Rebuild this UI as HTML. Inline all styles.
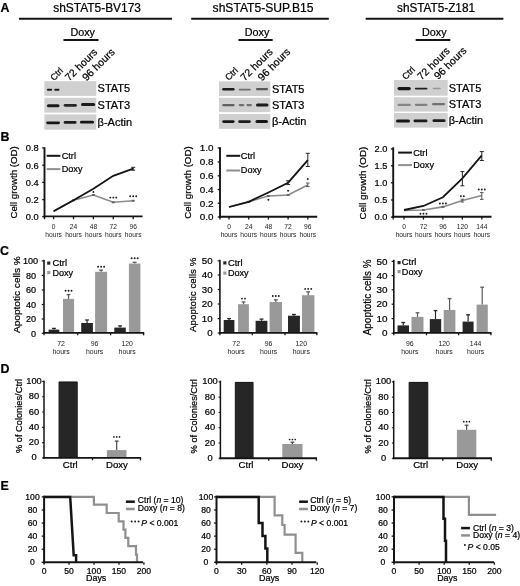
<!DOCTYPE html>
<html><head><meta charset="utf-8"><title>Figure</title>
<style>
html,body{margin:0;padding:0;background:#fff;}
svg{display:block;}
text{font-family:'Liberation Sans', Arial, Helvetica, sans-serif;stroke:#000;stroke-width:0.22px;}
text.ns{stroke:none;}
</style></head><body>
<svg width="520" height="586" viewBox="0 0 520 586">
<rect x="0" y="0" width="520" height="586" fill="#fff"/>
<text x="0.60" y="12.00" font-size="12.4" font-weight="bold">A</text>
<text x="0.60" y="141.00" font-size="12.4" font-weight="bold">B</text>
<text x="0.00" y="255.20" font-size="12.4" font-weight="bold">C</text>
<text x="0.60" y="373.40" font-size="12.4" font-weight="bold">D</text>
<text x="0.60" y="489.80" font-size="12.4" font-weight="bold">E</text>
<defs><filter id="bl" x="-20%" y="-100%" width="140%" height="300%"><feGaussianBlur stdDeviation="0.55"/></filter><filter id="bl2" x="-5%" y="-5%" width="110%" height="110%"><feGaussianBlur stdDeviation="0.35"/></filter></defs>
<text x="53.20" y="12.20" font-size="11.9" textLength="87.80" lengthAdjust="spacingAndGlyphs">shSTAT5-BV173</text>
<line x1="19.00" y1="18.75" x2="172.00" y2="18.75" stroke="#141414" stroke-width="1.9"/>
<text x="70.40" y="35.50" font-size="10.3" textLength="24.60" lengthAdjust="spacingAndGlyphs">Doxy</text>
<line x1="63.50" y1="40.00" x2="98.50" y2="40.00" stroke="#141414" stroke-width="1.8"/>
<text x="53.90" y="81.20" font-size="9.0" transform="rotate(-45 53.90 81.20)">Ctrl</text>
<text x="69.20" y="81.60" font-size="10.5" transform="rotate(-45 69.20 81.60)">72 hours</text>
<text x="86.50" y="81.60" font-size="10.5" transform="rotate(-45 86.50 81.60)">96 hours</text>
<rect x="44.40" y="81.20" width="51.90" height="14.70" fill="#d0d0d0"/>
<rect x="46.90" y="88.85" width="5.30" height="1.90" rx="0.95" fill="rgb(28,28,28)" filter="url(#bl)"/>
<rect x="54.20" y="88.85" width="5.30" height="1.90" rx="0.95" fill="rgb(28,28,28)" filter="url(#bl)"/>
<text x="97.60" y="92.35" font-size="11.0">STAT5</text>
<rect x="44.40" y="97.80" width="51.90" height="14.80" fill="#d0d0d0"/>
<rect x="46.90" y="104.20" width="12.60" height="3.00" rx="1.50" fill="rgb(28,28,28)" filter="url(#bl)"/>
<rect x="63.70" y="103.90" width="13.20" height="2.80" rx="1.40" fill="rgb(37,37,37)" filter="url(#bl)"/>
<rect x="81.00" y="102.90" width="14.20" height="3.00" rx="1.50" fill="rgb(28,28,28)" filter="url(#bl)"/>
<text x="97.60" y="109.00" font-size="11.0">STAT3</text>
<rect x="44.40" y="114.40" width="51.90" height="15.30" fill="#d0d0d0"/>
<rect x="46.20" y="121.40" width="13.80" height="2.80" rx="1.40" fill="rgb(25,25,25)" filter="url(#bl)"/>
<rect x="63.70" y="121.10" width="12.80" height="2.60" rx="1.30" fill="rgb(28,28,28)" filter="url(#bl)"/>
<rect x="80.00" y="120.80" width="14.00" height="2.80" rx="1.40" fill="rgb(25,25,25)" filter="url(#bl)"/>
<text x="97.60" y="125.85" font-size="11.0">&#946;-Actin</text>
<text x="212.60" y="12.20" font-size="11.9" textLength="100.90" lengthAdjust="spacingAndGlyphs">shSTAT5-SUP.B15</text>
<line x1="191.20" y1="18.75" x2="328.80" y2="18.75" stroke="#141414" stroke-width="1.9"/>
<text x="244.70" y="35.50" font-size="10.3" textLength="24.60" lengthAdjust="spacingAndGlyphs">Doxy</text>
<line x1="238.50" y1="40.00" x2="272.70" y2="40.00" stroke="#141414" stroke-width="1.8"/>
<text x="228.70" y="81.00" font-size="9.0" transform="rotate(-45 228.70 81.00)">Ctrl</text>
<text x="244.70" y="81.40" font-size="10.5" transform="rotate(-45 244.70 81.40)">72 hours</text>
<text x="262.10" y="81.40" font-size="10.5" transform="rotate(-45 262.10 81.40)">96 hours</text>
<rect x="219.00" y="81.40" width="51.30" height="14.60" fill="#d0d0d0"/>
<rect x="222.20" y="88.10" width="12.40" height="2.40" rx="1.20" fill="rgb(28,28,28)" filter="url(#bl)"/>
<rect x="238.70" y="88.70" width="12.10" height="1.80" rx="0.90" fill="rgb(113,113,113)" filter="url(#bl)"/>
<rect x="256.00" y="88.10" width="12.00" height="2.20" rx="1.10" fill="rgb(88,88,88)" filter="url(#bl)"/>
<text x="271.90" y="92.50" font-size="11.0">STAT5</text>
<rect x="219.00" y="97.80" width="51.30" height="14.30" fill="#d0d0d0"/>
<rect x="222.20" y="103.90" width="12.40" height="2.40" rx="1.20" fill="rgb(96,96,96)" filter="url(#bl)"/>
<rect x="238.70" y="104.00" width="5.65" height="2.20" rx="1.10" fill="rgb(113,113,113)" filter="url(#bl)"/>
<rect x="246.35" y="104.00" width="5.65" height="2.20" rx="1.10" fill="rgb(113,113,113)" filter="url(#bl)"/>
<rect x="256.00" y="103.40" width="12.50" height="3.00" rx="1.50" fill="rgb(28,28,28)" filter="url(#bl)"/>
<text x="271.90" y="108.75" font-size="11.0">STAT3</text>
<rect x="219.00" y="114.00" width="51.30" height="14.80" fill="#d0d0d0"/>
<rect x="222.20" y="120.20" width="12.40" height="2.80" rx="1.40" fill="rgb(25,25,25)" filter="url(#bl)"/>
<rect x="238.20" y="120.30" width="12.60" height="2.60" rx="1.30" fill="rgb(28,28,28)" filter="url(#bl)"/>
<rect x="255.50" y="119.90" width="12.50" height="3.00" rx="1.50" fill="rgb(25,25,25)" filter="url(#bl)"/>
<text x="271.90" y="125.20" font-size="11.0">&#946;-Actin</text>
<text x="397.00" y="12.20" font-size="11.9" textLength="78.00" lengthAdjust="spacingAndGlyphs">shSTAT5-Z181</text>
<line x1="365.70" y1="18.75" x2="503.40" y2="18.75" stroke="#141414" stroke-width="1.9"/>
<text x="422.00" y="35.50" font-size="10.3" textLength="24.60" lengthAdjust="spacingAndGlyphs">Doxy</text>
<line x1="415.70" y1="40.00" x2="450.30" y2="40.00" stroke="#141414" stroke-width="1.8"/>
<text x="405.70" y="80.20" font-size="9.0" transform="rotate(-45 405.70 80.20)">Ctrl</text>
<text x="421.60" y="80.50" font-size="10.5" transform="rotate(-45 421.60 80.50)">72 hours</text>
<text x="438.30" y="80.10" font-size="10.5" transform="rotate(-45 438.30 80.10)">96 hours</text>
<rect x="394.00" y="80.00" width="53.70" height="15.70" fill="#d0d0d0"/>
<rect x="397.50" y="86.90" width="13.30" height="3.40" rx="1.70" fill="rgb(20,20,20)" filter="url(#bl)"/>
<rect x="414.80" y="87.65" width="12.70" height="1.90" rx="0.95" fill="rgb(33,33,33)" filter="url(#bl)"/>
<rect x="432.70" y="87.85" width="8.10" height="1.50" rx="0.75" fill="rgb(152,152,152)" filter="url(#bl)"/>
<text x="448.70" y="91.65" font-size="11.0">STAT5</text>
<rect x="394.00" y="97.30" width="53.70" height="14.30" fill="#d0d0d0"/>
<rect x="397.50" y="103.75" width="13.30" height="2.30" rx="1.15" fill="rgb(133,133,133)" filter="url(#bl)"/>
<rect x="414.80" y="103.65" width="12.70" height="2.30" rx="1.15" fill="rgb(128,128,128)" filter="url(#bl)"/>
<rect x="432.00" y="103.05" width="13.00" height="2.30" rx="1.15" fill="rgb(113,113,113)" filter="url(#bl)"/>
<text x="448.70" y="108.25" font-size="11.0">STAT3</text>
<rect x="394.00" y="113.00" width="53.70" height="14.60" fill="#d0d0d0"/>
<rect x="396.00" y="119.40" width="14.00" height="3.00" rx="1.50" fill="rgb(25,25,25)" filter="url(#bl)"/>
<rect x="413.50" y="119.50" width="14.00" height="2.80" rx="1.40" fill="rgb(28,28,28)" filter="url(#bl)"/>
<rect x="432.50" y="119.30" width="13.00" height="2.80" rx="1.40" fill="rgb(28,28,28)" filter="url(#bl)"/>
<text x="448.70" y="124.10" font-size="11.0">&#946;-Actin</text>
<line x1="44.50" y1="147.30" x2="44.50" y2="217.40" stroke="#141414" stroke-width="1.9"/>
<line x1="43.55" y1="216.40" x2="142.60" y2="216.40" stroke="#141414" stroke-width="1.9"/>
<line x1="42.20" y1="147.90" x2="44.50" y2="147.90" stroke="#141414" stroke-width="1.3"/>
<text x="38.80" y="151.20" font-size="9.3" text-anchor="end">0.8</text>
<line x1="42.20" y1="165.20" x2="44.50" y2="165.20" stroke="#141414" stroke-width="1.3"/>
<text x="38.80" y="168.50" font-size="9.3" text-anchor="end">0.6</text>
<line x1="42.20" y1="182.40" x2="44.50" y2="182.40" stroke="#141414" stroke-width="1.3"/>
<text x="38.80" y="185.70" font-size="9.3" text-anchor="end">0.4</text>
<line x1="42.20" y1="199.60" x2="44.50" y2="199.60" stroke="#141414" stroke-width="1.3"/>
<text x="38.80" y="202.90" font-size="9.3" text-anchor="end">0.2</text>
<line x1="42.20" y1="216.60" x2="44.50" y2="216.60" stroke="#141414" stroke-width="1.3"/>
<text x="38.80" y="219.90" font-size="9.3" text-anchor="end">0.0</text>
<line x1="53.60" y1="216.40" x2="53.60" y2="219.20" stroke="#141414" stroke-width="1.3"/>
<line x1="73.50" y1="216.40" x2="73.50" y2="219.20" stroke="#141414" stroke-width="1.3"/>
<line x1="93.40" y1="216.40" x2="93.40" y2="219.20" stroke="#141414" stroke-width="1.3"/>
<line x1="113.30" y1="216.40" x2="113.30" y2="219.20" stroke="#141414" stroke-width="1.3"/>
<line x1="133.20" y1="216.40" x2="133.20" y2="219.20" stroke="#141414" stroke-width="1.3"/>
<line x1="44.50" y1="216.40" x2="44.50" y2="219.20" stroke="#141414" stroke-width="1.3"/>
<text x="53.60" y="229.20" font-size="6.7" class="ns" text-anchor="middle" fill="#222">0</text>
<text x="53.60" y="236.70" font-size="6.7" class="ns" text-anchor="middle" fill="#222">hours</text>
<text x="73.50" y="229.20" font-size="6.7" class="ns" text-anchor="middle" fill="#222">24</text>
<text x="73.50" y="236.70" font-size="6.7" class="ns" text-anchor="middle" fill="#222">hours</text>
<text x="93.40" y="229.20" font-size="6.7" class="ns" text-anchor="middle" fill="#222">48</text>
<text x="93.40" y="236.70" font-size="6.7" class="ns" text-anchor="middle" fill="#222">hours</text>
<text x="113.30" y="229.20" font-size="6.7" class="ns" text-anchor="middle" fill="#222">72</text>
<text x="113.30" y="236.70" font-size="6.7" class="ns" text-anchor="middle" fill="#222">hours</text>
<text x="133.20" y="229.20" font-size="6.7" class="ns" text-anchor="middle" fill="#222">96</text>
<text x="133.20" y="236.70" font-size="6.7" class="ns" text-anchor="middle" fill="#222">hours</text>
<text x="17.40" y="182.40" font-size="9.7" text-anchor="middle" textLength="72.40" lengthAdjust="spacingAndGlyphs" transform="rotate(-90 17.40 182.40)">Cell growth (OD)</text>
<polyline points="53.60,211.20 73.50,200.30 93.40,195.00 113.30,202.30 133.20,200.80" fill="none" stroke="#8a8a8a" stroke-width="1.6" stroke-linejoin="miter"/>
<rect x="72.00" y="199.30" width="3.00" height="2.00" fill="#666"/>
<rect x="91.90" y="194.00" width="3.00" height="2.00" fill="#666"/>
<rect x="111.80" y="201.30" width="3.00" height="2.00" fill="#666"/>
<rect x="131.70" y="199.80" width="3.00" height="2.00" fill="#666"/>
<polyline points="53.60,211.20 73.50,200.30 93.40,188.80 113.30,175.80 133.20,168.60" fill="none" stroke="#141414" stroke-width="1.8" stroke-linejoin="miter"/>
<line x1="133.20" y1="167.30" x2="133.20" y2="170.20" stroke="#222" stroke-width="1.0"/>
<line x1="131.20" y1="167.30" x2="135.20" y2="167.30" stroke="#222" stroke-width="1.0"/>
<line x1="131.20" y1="170.20" x2="135.20" y2="170.20" stroke="#222" stroke-width="1.0"/>
<circle cx="93.40" cy="192.00" r="0.95" fill="#1a1a1a"/>
<circle cx="110.30" cy="197.60" r="0.95" fill="#1a1a1a"/>
<circle cx="113.30" cy="197.60" r="0.95" fill="#1a1a1a"/>
<circle cx="116.30" cy="197.60" r="0.95" fill="#1a1a1a"/>
<circle cx="130.20" cy="196.20" r="0.95" fill="#1a1a1a"/>
<circle cx="133.20" cy="196.20" r="0.95" fill="#1a1a1a"/>
<circle cx="136.20" cy="196.20" r="0.95" fill="#1a1a1a"/>
<line x1="46.70" y1="155.80" x2="60.40" y2="155.80" stroke="#141414" stroke-width="2.0"/>
<line x1="46.70" y1="169.10" x2="60.40" y2="169.10" stroke="#8f8f8f" stroke-width="2.0"/>
<text x="61.70" y="158.90" font-size="9.4" textLength="14.30" lengthAdjust="spacingAndGlyphs">Ctrl</text>
<text x="61.70" y="171.80" font-size="9.4" textLength="20.80" lengthAdjust="spacingAndGlyphs">Doxy</text>
<line x1="220.00" y1="147.30" x2="220.00" y2="217.80" stroke="#141414" stroke-width="1.9"/>
<line x1="219.05" y1="216.80" x2="317.20" y2="216.80" stroke="#141414" stroke-width="1.9"/>
<line x1="217.70" y1="148.00" x2="220.00" y2="148.00" stroke="#141414" stroke-width="1.3"/>
<text x="213.60" y="151.30" font-size="9.9" text-anchor="end">1.0</text>
<line x1="217.70" y1="162.00" x2="220.00" y2="162.00" stroke="#141414" stroke-width="1.3"/>
<text x="213.60" y="165.30" font-size="9.9" text-anchor="end">0.8</text>
<line x1="217.70" y1="175.80" x2="220.00" y2="175.80" stroke="#141414" stroke-width="1.3"/>
<text x="213.60" y="179.10" font-size="9.9" text-anchor="end">0.6</text>
<line x1="217.70" y1="189.50" x2="220.00" y2="189.50" stroke="#141414" stroke-width="1.3"/>
<text x="213.60" y="192.80" font-size="9.9" text-anchor="end">0.4</text>
<line x1="217.70" y1="203.20" x2="220.00" y2="203.20" stroke="#141414" stroke-width="1.3"/>
<text x="213.60" y="206.50" font-size="9.9" text-anchor="end">0.2</text>
<line x1="217.70" y1="217.00" x2="220.00" y2="217.00" stroke="#141414" stroke-width="1.3"/>
<text x="213.60" y="220.30" font-size="9.9" text-anchor="end">0.0</text>
<line x1="229.00" y1="216.80" x2="229.00" y2="219.60" stroke="#141414" stroke-width="1.3"/>
<line x1="248.70" y1="216.80" x2="248.70" y2="219.60" stroke="#141414" stroke-width="1.3"/>
<line x1="268.40" y1="216.80" x2="268.40" y2="219.60" stroke="#141414" stroke-width="1.3"/>
<line x1="288.10" y1="216.80" x2="288.10" y2="219.60" stroke="#141414" stroke-width="1.3"/>
<line x1="307.80" y1="216.80" x2="307.80" y2="219.60" stroke="#141414" stroke-width="1.3"/>
<line x1="220.00" y1="216.80" x2="220.00" y2="219.60" stroke="#141414" stroke-width="1.3"/>
<text x="229.00" y="229.20" font-size="6.7" class="ns" text-anchor="middle" fill="#222">0</text>
<text x="229.00" y="236.70" font-size="6.7" class="ns" text-anchor="middle" fill="#222">hours</text>
<text x="248.70" y="229.20" font-size="6.7" class="ns" text-anchor="middle" fill="#222">24</text>
<text x="248.70" y="236.70" font-size="6.7" class="ns" text-anchor="middle" fill="#222">hours</text>
<text x="268.40" y="229.20" font-size="6.7" class="ns" text-anchor="middle" fill="#222">48</text>
<text x="268.40" y="236.70" font-size="6.7" class="ns" text-anchor="middle" fill="#222">hours</text>
<text x="288.10" y="229.20" font-size="6.7" class="ns" text-anchor="middle" fill="#222">72</text>
<text x="288.10" y="236.70" font-size="6.7" class="ns" text-anchor="middle" fill="#222">hours</text>
<text x="307.80" y="229.20" font-size="6.7" class="ns" text-anchor="middle" fill="#222">96</text>
<text x="307.80" y="236.70" font-size="6.7" class="ns" text-anchor="middle" fill="#222">hours</text>
<text x="190.50" y="182.50" font-size="9.7" text-anchor="middle" textLength="72.40" lengthAdjust="spacingAndGlyphs" transform="rotate(-90 190.50 182.50)">Cell growth (OD)</text>
<polyline points="229.00,207.00 248.70,201.80 268.40,196.00 288.10,195.00 307.80,185.00" fill="none" stroke="#8a8a8a" stroke-width="1.6" stroke-linejoin="miter"/>
<rect x="247.20" y="200.80" width="3.00" height="2.00" fill="#666"/>
<rect x="266.90" y="195.00" width="3.00" height="2.00" fill="#666"/>
<rect x="286.60" y="194.00" width="3.00" height="2.00" fill="#666"/>
<polyline points="229.00,207.00 248.70,201.80 268.40,192.50 288.10,182.70 307.80,160.10" fill="none" stroke="#141414" stroke-width="1.8" stroke-linejoin="miter"/>
<line x1="288.10" y1="180.80" x2="288.10" y2="184.60" stroke="#222" stroke-width="1.0"/>
<line x1="286.10" y1="180.80" x2="290.10" y2="180.80" stroke="#222" stroke-width="1.0"/>
<line x1="286.10" y1="184.60" x2="290.10" y2="184.60" stroke="#222" stroke-width="1.0"/>
<line x1="307.80" y1="153.30" x2="307.80" y2="166.50" stroke="#222" stroke-width="1.0"/>
<line x1="305.80" y1="153.30" x2="309.80" y2="153.30" stroke="#222" stroke-width="1.0"/>
<line x1="305.80" y1="166.50" x2="309.80" y2="166.50" stroke="#222" stroke-width="1.0"/>
<line x1="307.80" y1="183.00" x2="307.80" y2="186.60" stroke="#5a5a5a" stroke-width="1.0"/>
<line x1="306.00" y1="183.00" x2="309.60" y2="183.00" stroke="#5a5a5a" stroke-width="1.0"/>
<line x1="306.00" y1="186.60" x2="309.60" y2="186.60" stroke="#5a5a5a" stroke-width="1.0"/>
<circle cx="268.40" cy="199.80" r="0.95" fill="#1a1a1a"/>
<circle cx="288.10" cy="190.70" r="0.95" fill="#1a1a1a"/>
<circle cx="307.80" cy="179.00" r="0.95" fill="#1a1a1a"/>
<line x1="226.30" y1="155.80" x2="240.20" y2="155.80" stroke="#141414" stroke-width="2.0"/>
<line x1="226.30" y1="170.50" x2="240.20" y2="170.50" stroke="#8f8f8f" stroke-width="2.0"/>
<text x="240.80" y="158.90" font-size="9.4" textLength="14.30" lengthAdjust="spacingAndGlyphs">Ctrl</text>
<text x="240.80" y="173.20" font-size="9.4" textLength="20.80" lengthAdjust="spacingAndGlyphs">Doxy</text>
<line x1="393.20" y1="147.30" x2="393.20" y2="217.80" stroke="#141414" stroke-width="1.9"/>
<line x1="392.25" y1="216.80" x2="491.50" y2="216.80" stroke="#141414" stroke-width="1.9"/>
<line x1="390.90" y1="148.90" x2="393.20" y2="148.90" stroke="#141414" stroke-width="1.3"/>
<text x="387.30" y="152.20" font-size="9.2" text-anchor="end">2.0</text>
<line x1="390.90" y1="165.80" x2="393.20" y2="165.80" stroke="#141414" stroke-width="1.3"/>
<text x="387.30" y="169.10" font-size="9.2" text-anchor="end">1.5</text>
<line x1="390.90" y1="182.80" x2="393.20" y2="182.80" stroke="#141414" stroke-width="1.3"/>
<text x="387.30" y="186.10" font-size="9.2" text-anchor="end">1.0</text>
<line x1="390.90" y1="200.00" x2="393.20" y2="200.00" stroke="#141414" stroke-width="1.3"/>
<text x="387.30" y="203.30" font-size="9.2" text-anchor="end">0.5</text>
<line x1="390.90" y1="217.10" x2="393.20" y2="217.10" stroke="#141414" stroke-width="1.3"/>
<text x="387.30" y="220.40" font-size="9.2" text-anchor="end">0.0</text>
<line x1="404.00" y1="216.80" x2="404.00" y2="219.60" stroke="#141414" stroke-width="1.3"/>
<line x1="423.45" y1="216.80" x2="423.45" y2="219.60" stroke="#141414" stroke-width="1.3"/>
<line x1="442.90" y1="216.80" x2="442.90" y2="219.60" stroke="#141414" stroke-width="1.3"/>
<line x1="462.35" y1="216.80" x2="462.35" y2="219.60" stroke="#141414" stroke-width="1.3"/>
<line x1="481.80" y1="216.80" x2="481.80" y2="219.60" stroke="#141414" stroke-width="1.3"/>
<line x1="393.20" y1="216.80" x2="393.20" y2="219.60" stroke="#141414" stroke-width="1.3"/>
<text x="404.00" y="229.20" font-size="6.7" class="ns" text-anchor="middle" fill="#222">0</text>
<text x="404.00" y="236.70" font-size="6.7" class="ns" text-anchor="middle" fill="#222">hours</text>
<text x="423.45" y="229.20" font-size="6.7" class="ns" text-anchor="middle" fill="#222">72</text>
<text x="423.45" y="236.70" font-size="6.7" class="ns" text-anchor="middle" fill="#222">hours</text>
<text x="442.90" y="229.20" font-size="6.7" class="ns" text-anchor="middle" fill="#222">96</text>
<text x="442.90" y="236.70" font-size="6.7" class="ns" text-anchor="middle" fill="#222">hours</text>
<text x="462.35" y="229.20" font-size="6.7" class="ns" text-anchor="middle" fill="#222">120</text>
<text x="462.35" y="236.70" font-size="6.7" class="ns" text-anchor="middle" fill="#222">hours</text>
<text x="481.80" y="229.20" font-size="6.7" class="ns" text-anchor="middle" fill="#222">144</text>
<text x="481.80" y="236.70" font-size="6.7" class="ns" text-anchor="middle" fill="#222">hours</text>
<text x="365.70" y="183.10" font-size="9.7" text-anchor="middle" textLength="72.60" lengthAdjust="spacingAndGlyphs" transform="rotate(-90 365.70 183.10)">Cell growth (OD)</text>
<polyline points="404.00,210.50 423.45,210.00 442.90,206.90 462.35,200.60 481.80,195.50" fill="none" stroke="#8a8a8a" stroke-width="1.6" stroke-linejoin="miter"/>
<rect x="421.95" y="209.00" width="3.00" height="2.00" fill="#666"/>
<rect x="441.40" y="205.90" width="3.00" height="2.00" fill="#666"/>
<polyline points="404.00,210.00 423.45,206.00 442.90,197.20 462.35,178.40 481.80,155.40" fill="none" stroke="#141414" stroke-width="1.8" stroke-linejoin="miter"/>
<line x1="462.35" y1="171.60" x2="462.35" y2="185.80" stroke="#222" stroke-width="1.0"/>
<line x1="460.35" y1="171.60" x2="464.35" y2="171.60" stroke="#222" stroke-width="1.0"/>
<line x1="460.35" y1="185.80" x2="464.35" y2="185.80" stroke="#222" stroke-width="1.0"/>
<line x1="481.80" y1="151.60" x2="481.80" y2="160.50" stroke="#222" stroke-width="1.0"/>
<line x1="479.80" y1="151.60" x2="483.80" y2="151.60" stroke="#222" stroke-width="1.0"/>
<line x1="479.80" y1="160.50" x2="483.80" y2="160.50" stroke="#222" stroke-width="1.0"/>
<line x1="462.35" y1="199.20" x2="462.35" y2="202.00" stroke="#5a5a5a" stroke-width="1.0"/>
<line x1="460.55" y1="199.20" x2="464.15" y2="199.20" stroke="#5a5a5a" stroke-width="1.0"/>
<line x1="460.55" y1="202.00" x2="464.15" y2="202.00" stroke="#5a5a5a" stroke-width="1.0"/>
<line x1="481.80" y1="192.60" x2="481.80" y2="199.40" stroke="#5a5a5a" stroke-width="1.0"/>
<line x1="480.00" y1="192.60" x2="483.60" y2="192.60" stroke="#5a5a5a" stroke-width="1.0"/>
<line x1="480.00" y1="199.40" x2="483.60" y2="199.40" stroke="#5a5a5a" stroke-width="1.0"/>
<circle cx="420.45" cy="213.80" r="0.95" fill="#1a1a1a"/>
<circle cx="423.45" cy="213.80" r="0.95" fill="#1a1a1a"/>
<circle cx="426.45" cy="213.80" r="0.95" fill="#1a1a1a"/>
<circle cx="439.90" cy="203.50" r="0.95" fill="#1a1a1a"/>
<circle cx="442.90" cy="203.50" r="0.95" fill="#1a1a1a"/>
<circle cx="445.90" cy="203.50" r="0.95" fill="#1a1a1a"/>
<circle cx="460.85" cy="196.30" r="0.95" fill="#1a1a1a"/>
<circle cx="463.85" cy="196.30" r="0.95" fill="#1a1a1a"/>
<circle cx="478.80" cy="189.50" r="0.95" fill="#1a1a1a"/>
<circle cx="481.80" cy="189.50" r="0.95" fill="#1a1a1a"/>
<circle cx="484.80" cy="189.50" r="0.95" fill="#1a1a1a"/>
<line x1="398.10" y1="152.60" x2="412.00" y2="152.60" stroke="#141414" stroke-width="2.0"/>
<line x1="398.10" y1="165.10" x2="412.00" y2="165.10" stroke="#8f8f8f" stroke-width="2.0"/>
<text x="413.20" y="155.70" font-size="9.4" textLength="14.30" lengthAdjust="spacingAndGlyphs">Ctrl</text>
<text x="413.20" y="167.80" font-size="9.4" textLength="20.80" lengthAdjust="spacingAndGlyphs">Doxy</text>
<rect x="48.60" y="329.60" width="10.70" height="3.30" fill="#262626"/>
<rect x="63.00" y="298.90" width="11.10" height="34.00" fill="#999999"/>
<line x1="53.95" y1="328.40" x2="53.95" y2="329.60" stroke="#262626" stroke-width="1.2"/>
<line x1="52.05" y1="328.40" x2="55.85" y2="328.40" stroke="#262626" stroke-width="1.3"/>
<line x1="68.55" y1="294.60" x2="68.55" y2="298.90" stroke="#5a5a5a" stroke-width="1.2"/>
<line x1="66.65" y1="294.60" x2="70.45" y2="294.60" stroke="#5a5a5a" stroke-width="1.3"/>
<circle cx="65.55" cy="290.80" r="0.95" fill="#1a1a1a"/>
<circle cx="68.55" cy="290.80" r="0.95" fill="#1a1a1a"/>
<circle cx="71.55" cy="290.80" r="0.95" fill="#1a1a1a"/>
<rect x="81.20" y="323.00" width="11.70" height="9.90" fill="#262626"/>
<rect x="95.10" y="271.80" width="12.00" height="61.10" fill="#999999"/>
<line x1="87.05" y1="320.00" x2="87.05" y2="323.00" stroke="#262626" stroke-width="1.2"/>
<line x1="85.15" y1="320.00" x2="88.95" y2="320.00" stroke="#262626" stroke-width="1.3"/>
<line x1="101.10" y1="270.10" x2="101.10" y2="271.80" stroke="#5a5a5a" stroke-width="1.2"/>
<line x1="99.20" y1="270.10" x2="103.00" y2="270.10" stroke="#5a5a5a" stroke-width="1.3"/>
<circle cx="98.10" cy="266.70" r="0.95" fill="#1a1a1a"/>
<circle cx="101.10" cy="266.70" r="0.95" fill="#1a1a1a"/>
<circle cx="104.10" cy="266.70" r="0.95" fill="#1a1a1a"/>
<rect x="114.30" y="327.60" width="11.50" height="5.30" fill="#262626"/>
<rect x="128.90" y="263.60" width="11.50" height="69.30" fill="#999999"/>
<line x1="120.05" y1="325.90" x2="120.05" y2="327.60" stroke="#262626" stroke-width="1.2"/>
<line x1="118.15" y1="325.90" x2="121.95" y2="325.90" stroke="#262626" stroke-width="1.3"/>
<line x1="134.65" y1="262.30" x2="134.65" y2="263.60" stroke="#5a5a5a" stroke-width="1.2"/>
<line x1="132.75" y1="262.30" x2="136.55" y2="262.30" stroke="#5a5a5a" stroke-width="1.3"/>
<circle cx="131.65" cy="258.20" r="0.95" fill="#1a1a1a"/>
<circle cx="134.65" cy="258.20" r="0.95" fill="#1a1a1a"/>
<circle cx="137.65" cy="258.20" r="0.95" fill="#1a1a1a"/>
<line x1="44.00" y1="259.80" x2="44.00" y2="333.80" stroke="#141414" stroke-width="1.6"/>
<line x1="43.20" y1="332.90" x2="144.20" y2="332.90" stroke="#141414" stroke-width="1.9"/>
<line x1="41.80" y1="261.00" x2="44.00" y2="261.00" stroke="#141414" stroke-width="1.2"/>
<text x="38.20" y="264.20" font-size="9.1" text-anchor="end">100</text>
<line x1="41.80" y1="275.40" x2="44.00" y2="275.40" stroke="#141414" stroke-width="1.2"/>
<text x="36.00" y="278.60" font-size="9.1" text-anchor="end">80</text>
<line x1="41.80" y1="290.00" x2="44.00" y2="290.00" stroke="#141414" stroke-width="1.2"/>
<text x="36.00" y="293.20" font-size="9.1" text-anchor="end">60</text>
<line x1="41.80" y1="304.50" x2="44.00" y2="304.50" stroke="#141414" stroke-width="1.2"/>
<text x="36.00" y="307.70" font-size="9.1" text-anchor="end">40</text>
<line x1="41.80" y1="319.00" x2="44.00" y2="319.00" stroke="#141414" stroke-width="1.2"/>
<text x="36.00" y="322.20" font-size="9.1" text-anchor="end">20</text>
<line x1="41.80" y1="333.30" x2="44.00" y2="333.30" stroke="#141414" stroke-width="1.2"/>
<text x="36.00" y="336.50" font-size="9.1" text-anchor="end">0</text>
<line x1="44.00" y1="332.90" x2="44.00" y2="335.30" stroke="#141414" stroke-width="1.3"/>
<line x1="77.70" y1="332.90" x2="77.70" y2="335.30" stroke="#141414" stroke-width="1.3"/>
<line x1="110.60" y1="332.90" x2="110.60" y2="335.30" stroke="#141414" stroke-width="1.3"/>
<line x1="143.60" y1="332.90" x2="143.60" y2="335.30" stroke="#141414" stroke-width="1.3"/>
<text x="61.10" y="345.70" font-size="6.9" class="ns" text-anchor="middle" fill="#222">72</text>
<text x="61.10" y="353.80" font-size="6.9" class="ns" text-anchor="middle" fill="#222">hours</text>
<text x="94.60" y="345.70" font-size="6.9" class="ns" text-anchor="middle" fill="#222">96</text>
<text x="94.60" y="353.80" font-size="6.9" class="ns" text-anchor="middle" fill="#222">hours</text>
<text x="127.20" y="345.70" font-size="6.9" class="ns" text-anchor="middle" fill="#222">120</text>
<text x="127.20" y="353.80" font-size="6.9" class="ns" text-anchor="middle" fill="#222">hours</text>
<text x="19.60" y="294.60" font-size="9.9" text-anchor="middle" textLength="76.80" lengthAdjust="spacingAndGlyphs" transform="rotate(-90 19.60 294.60)">Apoptotic cells %</text>
<rect x="47.20" y="261.50" width="3.10" height="3.20" fill="#262626"/>
<rect x="47.20" y="271.00" width="3.10" height="3.20" fill="#999999"/>
<text x="52.40" y="265.90" font-size="9.2" textLength="14.60" lengthAdjust="spacingAndGlyphs">Ctrl</text>
<text x="52.40" y="275.80" font-size="9.2" textLength="20.80" lengthAdjust="spacingAndGlyphs">Doxy</text>
<rect x="223.70" y="320.00" width="10.70" height="12.90" fill="#262626"/>
<rect x="238.10" y="304.20" width="10.80" height="28.70" fill="#999999"/>
<line x1="229.05" y1="318.60" x2="229.05" y2="320.00" stroke="#262626" stroke-width="1.2"/>
<line x1="227.15" y1="318.60" x2="230.95" y2="318.60" stroke="#262626" stroke-width="1.3"/>
<line x1="243.50" y1="302.00" x2="243.50" y2="304.20" stroke="#5a5a5a" stroke-width="1.2"/>
<line x1="241.60" y1="302.00" x2="245.40" y2="302.00" stroke="#5a5a5a" stroke-width="1.3"/>
<circle cx="242.00" cy="298.60" r="0.95" fill="#1a1a1a"/>
<circle cx="245.00" cy="298.60" r="0.95" fill="#1a1a1a"/>
<rect x="255.60" y="320.80" width="11.80" height="12.10" fill="#262626"/>
<rect x="269.60" y="302.00" width="12.40" height="30.90" fill="#999999"/>
<line x1="261.50" y1="319.10" x2="261.50" y2="320.80" stroke="#262626" stroke-width="1.2"/>
<line x1="259.60" y1="319.10" x2="263.40" y2="319.10" stroke="#262626" stroke-width="1.3"/>
<line x1="275.80" y1="299.80" x2="275.80" y2="302.00" stroke="#5a5a5a" stroke-width="1.2"/>
<line x1="273.90" y1="299.80" x2="277.70" y2="299.80" stroke="#5a5a5a" stroke-width="1.3"/>
<circle cx="272.80" cy="296.00" r="0.95" fill="#1a1a1a"/>
<circle cx="275.80" cy="296.00" r="0.95" fill="#1a1a1a"/>
<circle cx="278.80" cy="296.00" r="0.95" fill="#1a1a1a"/>
<rect x="288.00" y="315.70" width="11.90" height="17.20" fill="#262626"/>
<rect x="302.00" y="295.20" width="12.40" height="37.70" fill="#999999"/>
<line x1="293.95" y1="314.50" x2="293.95" y2="315.70" stroke="#262626" stroke-width="1.2"/>
<line x1="292.05" y1="314.50" x2="295.85" y2="314.50" stroke="#262626" stroke-width="1.3"/>
<line x1="308.20" y1="291.80" x2="308.20" y2="295.20" stroke="#5a5a5a" stroke-width="1.2"/>
<line x1="306.30" y1="291.80" x2="310.10" y2="291.80" stroke="#5a5a5a" stroke-width="1.3"/>
<circle cx="305.20" cy="288.90" r="0.95" fill="#1a1a1a"/>
<circle cx="308.20" cy="288.90" r="0.95" fill="#1a1a1a"/>
<circle cx="311.20" cy="288.90" r="0.95" fill="#1a1a1a"/>
<line x1="219.90" y1="259.80" x2="219.90" y2="333.80" stroke="#141414" stroke-width="1.6"/>
<line x1="219.10" y1="332.90" x2="317.40" y2="332.90" stroke="#141414" stroke-width="1.9"/>
<line x1="217.70" y1="260.90" x2="219.90" y2="260.90" stroke="#141414" stroke-width="1.2"/>
<text x="212.60" y="264.10" font-size="9.7" text-anchor="end">50</text>
<line x1="217.70" y1="275.00" x2="219.90" y2="275.00" stroke="#141414" stroke-width="1.2"/>
<text x="212.60" y="278.20" font-size="9.7" text-anchor="end">40</text>
<line x1="217.70" y1="289.50" x2="219.90" y2="289.50" stroke="#141414" stroke-width="1.2"/>
<text x="212.60" y="292.70" font-size="9.7" text-anchor="end">30</text>
<line x1="217.70" y1="304.00" x2="219.90" y2="304.00" stroke="#141414" stroke-width="1.2"/>
<text x="212.60" y="307.20" font-size="9.7" text-anchor="end">20</text>
<line x1="217.70" y1="318.60" x2="219.90" y2="318.60" stroke="#141414" stroke-width="1.2"/>
<text x="212.60" y="321.80" font-size="9.7" text-anchor="end">10</text>
<line x1="217.70" y1="333.00" x2="219.90" y2="333.00" stroke="#141414" stroke-width="1.2"/>
<text x="212.60" y="336.20" font-size="9.7" text-anchor="end">0</text>
<line x1="219.90" y1="332.90" x2="219.90" y2="335.30" stroke="#141414" stroke-width="1.3"/>
<line x1="252.30" y1="332.90" x2="252.30" y2="335.30" stroke="#141414" stroke-width="1.3"/>
<line x1="285.00" y1="332.90" x2="285.00" y2="335.30" stroke="#141414" stroke-width="1.3"/>
<line x1="316.80" y1="332.90" x2="316.80" y2="335.30" stroke="#141414" stroke-width="1.3"/>
<text x="236.15" y="345.70" font-size="6.9" class="ns" text-anchor="middle" fill="#222">72</text>
<text x="236.15" y="353.80" font-size="6.9" class="ns" text-anchor="middle" fill="#222">hours</text>
<text x="268.55" y="345.70" font-size="6.9" class="ns" text-anchor="middle" fill="#222">96</text>
<text x="268.55" y="353.80" font-size="6.9" class="ns" text-anchor="middle" fill="#222">hours</text>
<text x="301.25" y="345.70" font-size="6.9" class="ns" text-anchor="middle" fill="#222">120</text>
<text x="301.25" y="353.80" font-size="6.9" class="ns" text-anchor="middle" fill="#222">hours</text>
<text x="195.90" y="294.80" font-size="9.9" text-anchor="middle" textLength="74.20" lengthAdjust="spacingAndGlyphs" transform="rotate(-90 195.90 294.80)">Apoptotic cells %</text>
<rect x="223.30" y="261.30" width="3.10" height="3.20" fill="#262626"/>
<rect x="223.30" y="271.50" width="3.10" height="3.20" fill="#999999"/>
<text x="227.90" y="265.70" font-size="9.2" textLength="14.60" lengthAdjust="spacingAndGlyphs">Ctrl</text>
<text x="227.90" y="276.30" font-size="9.2" textLength="20.80" lengthAdjust="spacingAndGlyphs">Doxy</text>
<rect x="397.50" y="325.40" width="11.50" height="7.50" fill="#262626"/>
<rect x="411.50" y="316.90" width="12.00" height="16.00" fill="#999999"/>
<line x1="403.25" y1="322.50" x2="403.25" y2="325.40" stroke="#262626" stroke-width="1.2"/>
<line x1="401.35" y1="322.50" x2="405.15" y2="322.50" stroke="#262626" stroke-width="1.3"/>
<line x1="417.50" y1="312.80" x2="417.50" y2="316.90" stroke="#5a5a5a" stroke-width="1.2"/>
<line x1="415.60" y1="312.80" x2="419.40" y2="312.80" stroke="#5a5a5a" stroke-width="1.3"/>
<rect x="429.80" y="319.10" width="11.40" height="13.80" fill="#262626"/>
<rect x="443.70" y="310.00" width="11.70" height="22.90" fill="#999999"/>
<line x1="435.50" y1="310.60" x2="435.50" y2="319.10" stroke="#262626" stroke-width="1.2"/>
<line x1="433.60" y1="310.60" x2="437.40" y2="310.60" stroke="#262626" stroke-width="1.3"/>
<line x1="449.55" y1="298.60" x2="449.55" y2="310.00" stroke="#5a5a5a" stroke-width="1.2"/>
<line x1="447.65" y1="298.60" x2="451.45" y2="298.60" stroke="#5a5a5a" stroke-width="1.3"/>
<rect x="462.60" y="321.60" width="11.00" height="11.30" fill="#262626"/>
<rect x="476.60" y="304.60" width="11.20" height="28.30" fill="#999999"/>
<line x1="468.10" y1="314.80" x2="468.10" y2="321.60" stroke="#262626" stroke-width="1.2"/>
<line x1="466.20" y1="314.80" x2="470.00" y2="314.80" stroke="#262626" stroke-width="1.3"/>
<line x1="482.20" y1="287.20" x2="482.20" y2="304.60" stroke="#5a5a5a" stroke-width="1.2"/>
<line x1="480.30" y1="287.20" x2="484.10" y2="287.20" stroke="#5a5a5a" stroke-width="1.3"/>
<line x1="393.80" y1="259.80" x2="393.80" y2="333.80" stroke="#141414" stroke-width="1.6"/>
<line x1="393.00" y1="332.90" x2="491.50" y2="332.90" stroke="#141414" stroke-width="1.9"/>
<line x1="391.60" y1="261.40" x2="393.80" y2="261.40" stroke="#141414" stroke-width="1.2"/>
<text x="387.40" y="264.60" font-size="9.9" text-anchor="end">50</text>
<line x1="391.60" y1="275.60" x2="393.80" y2="275.60" stroke="#141414" stroke-width="1.2"/>
<text x="387.40" y="278.80" font-size="9.9" text-anchor="end">40</text>
<line x1="391.60" y1="289.80" x2="393.80" y2="289.80" stroke="#141414" stroke-width="1.2"/>
<text x="387.40" y="293.00" font-size="9.9" text-anchor="end">30</text>
<line x1="391.60" y1="304.20" x2="393.80" y2="304.20" stroke="#141414" stroke-width="1.2"/>
<text x="387.40" y="307.40" font-size="9.9" text-anchor="end">20</text>
<line x1="391.60" y1="318.60" x2="393.80" y2="318.60" stroke="#141414" stroke-width="1.2"/>
<text x="387.40" y="321.80" font-size="9.9" text-anchor="end">10</text>
<line x1="391.60" y1="333.20" x2="393.80" y2="333.20" stroke="#141414" stroke-width="1.2"/>
<text x="387.40" y="336.40" font-size="9.9" text-anchor="end">0</text>
<line x1="393.80" y1="332.90" x2="393.80" y2="335.30" stroke="#141414" stroke-width="1.3"/>
<line x1="426.50" y1="332.90" x2="426.50" y2="335.30" stroke="#141414" stroke-width="1.3"/>
<line x1="458.60" y1="332.90" x2="458.60" y2="335.30" stroke="#141414" stroke-width="1.3"/>
<line x1="490.90" y1="332.90" x2="490.90" y2="335.30" stroke="#141414" stroke-width="1.3"/>
<text x="409.80" y="345.70" font-size="6.9" class="ns" text-anchor="middle" fill="#222">96</text>
<text x="409.80" y="353.80" font-size="6.9" class="ns" text-anchor="middle" fill="#222">hours</text>
<text x="444.20" y="345.70" font-size="6.9" class="ns" text-anchor="middle" fill="#222">120</text>
<text x="444.20" y="353.80" font-size="6.9" class="ns" text-anchor="middle" fill="#222">hours</text>
<text x="475.60" y="345.70" font-size="6.9" class="ns" text-anchor="middle" fill="#222">144</text>
<text x="475.60" y="353.80" font-size="6.9" class="ns" text-anchor="middle" fill="#222">hours</text>
<text x="370.60" y="297.40" font-size="10.6" text-anchor="middle" textLength="75.80" lengthAdjust="spacingAndGlyphs" transform="rotate(-90 370.60 297.40)">Apoptotic cells %</text>
<rect x="397.50" y="261.00" width="3.10" height="3.20" fill="#262626"/>
<rect x="397.50" y="270.00" width="3.10" height="3.20" fill="#999999"/>
<text x="401.80" y="265.40" font-size="9.2" textLength="14.60" lengthAdjust="spacingAndGlyphs">Ctrl</text>
<text x="401.80" y="274.80" font-size="9.2" textLength="20.80" lengthAdjust="spacingAndGlyphs">Doxy</text>
<rect x="58.50" y="381.90" width="19.30" height="76.00" fill="#262626"/>
<line x1="59.00" y1="382.00" x2="77.30" y2="382.00" stroke="#111" stroke-width="1.0"/>
<rect x="106.90" y="450.10" width="19.60" height="7.80" fill="#999999"/>
<line x1="116.70" y1="441.10" x2="116.70" y2="450.10" stroke="#4a4a4a" stroke-width="1.2"/>
<line x1="114.80" y1="441.10" x2="118.60" y2="441.10" stroke="#4a4a4a" stroke-width="1.3"/>
<circle cx="113.90" cy="436.90" r="0.85" fill="#1a1a1a"/>
<circle cx="116.70" cy="436.90" r="0.85" fill="#1a1a1a"/>
<circle cx="119.50" cy="436.90" r="0.85" fill="#1a1a1a"/>
<line x1="44.00" y1="380.40" x2="44.00" y2="458.80" stroke="#141414" stroke-width="1.5"/>
<line x1="43.25" y1="457.90" x2="141.10" y2="457.90" stroke="#141414" stroke-width="1.9"/>
<line x1="92.55" y1="457.90" x2="92.55" y2="460.30" stroke="#141414" stroke-width="1.3"/>
<line x1="140.50" y1="457.90" x2="140.50" y2="460.30" stroke="#141414" stroke-width="1.3"/>
<line x1="42.20" y1="381.50" x2="44.00" y2="381.50" stroke="#141414" stroke-width="1.1"/>
<text x="34.00" y="384.00" font-size="9.3" text-anchor="middle">100</text>
<line x1="42.20" y1="396.78" x2="44.00" y2="396.78" stroke="#141414" stroke-width="1.1"/>
<text x="34.00" y="399.28" font-size="9.3" text-anchor="middle">80</text>
<line x1="42.20" y1="412.06" x2="44.00" y2="412.06" stroke="#141414" stroke-width="1.1"/>
<text x="34.00" y="414.56" font-size="9.3" text-anchor="middle">60</text>
<line x1="42.20" y1="427.34" x2="44.00" y2="427.34" stroke="#141414" stroke-width="1.1"/>
<text x="34.00" y="429.84" font-size="9.3" text-anchor="middle">40</text>
<line x1="42.20" y1="442.62" x2="44.00" y2="442.62" stroke="#141414" stroke-width="1.1"/>
<text x="34.00" y="445.12" font-size="9.3" text-anchor="middle">20</text>
<line x1="42.20" y1="457.90" x2="44.00" y2="457.90" stroke="#141414" stroke-width="1.1"/>
<text x="34.00" y="460.40" font-size="9.3" text-anchor="middle">0</text>
<text x="21.60" y="416.00" font-size="8.8" text-anchor="middle" textLength="74.20" lengthAdjust="spacingAndGlyphs" transform="rotate(-90 21.60 416.00)">% of Colonies/Ctrl</text>
<text x="70.30" y="468.20" font-size="9.6" text-anchor="middle">Ctrl</text>
<text x="117.00" y="468.20" font-size="9.6" text-anchor="middle">Doxy</text>
<rect x="234.80" y="382.30" width="18.80" height="76.00" fill="#262626"/>
<line x1="235.30" y1="382.40" x2="253.10" y2="382.40" stroke="#111" stroke-width="1.0"/>
<rect x="282.30" y="444.00" width="20.20" height="14.30" fill="#999999"/>
<line x1="292.40" y1="442.20" x2="292.40" y2="444.00" stroke="#4a4a4a" stroke-width="1.2"/>
<line x1="290.50" y1="442.20" x2="294.30" y2="442.20" stroke="#4a4a4a" stroke-width="1.3"/>
<circle cx="289.60" cy="439.50" r="0.85" fill="#1a1a1a"/>
<circle cx="292.40" cy="439.50" r="0.85" fill="#1a1a1a"/>
<circle cx="295.20" cy="439.50" r="0.85" fill="#1a1a1a"/>
<line x1="220.40" y1="380.60" x2="220.40" y2="459.20" stroke="#141414" stroke-width="1.5"/>
<line x1="219.65" y1="458.30" x2="317.00" y2="458.30" stroke="#141414" stroke-width="1.9"/>
<line x1="268.70" y1="458.30" x2="268.70" y2="460.70" stroke="#141414" stroke-width="1.3"/>
<line x1="316.40" y1="458.30" x2="316.40" y2="460.70" stroke="#141414" stroke-width="1.3"/>
<line x1="218.60" y1="381.90" x2="220.40" y2="381.90" stroke="#141414" stroke-width="1.1"/>
<text x="210.00" y="384.40" font-size="9.3" text-anchor="middle">100</text>
<line x1="218.60" y1="397.18" x2="220.40" y2="397.18" stroke="#141414" stroke-width="1.1"/>
<text x="210.00" y="399.68" font-size="9.3" text-anchor="middle">80</text>
<line x1="218.60" y1="412.46" x2="220.40" y2="412.46" stroke="#141414" stroke-width="1.1"/>
<text x="210.00" y="414.96" font-size="9.3" text-anchor="middle">60</text>
<line x1="218.60" y1="427.74" x2="220.40" y2="427.74" stroke="#141414" stroke-width="1.1"/>
<text x="210.00" y="430.24" font-size="9.3" text-anchor="middle">40</text>
<line x1="218.60" y1="443.02" x2="220.40" y2="443.02" stroke="#141414" stroke-width="1.1"/>
<text x="210.00" y="445.52" font-size="9.3" text-anchor="middle">20</text>
<line x1="218.60" y1="458.30" x2="220.40" y2="458.30" stroke="#141414" stroke-width="1.1"/>
<text x="210.00" y="460.80" font-size="9.3" text-anchor="middle">0</text>
<text x="196.70" y="416.30" font-size="8.8" text-anchor="middle" textLength="74.20" lengthAdjust="spacingAndGlyphs" transform="rotate(-90 196.70 416.30)">% of Colonies/Ctrl</text>
<text x="246.00" y="468.20" font-size="9.6" text-anchor="middle">Ctrl</text>
<text x="292.50" y="468.20" font-size="9.6" text-anchor="middle">Doxy</text>
<rect x="408.60" y="382.30" width="19.70" height="76.00" fill="#262626"/>
<line x1="409.10" y1="382.40" x2="427.80" y2="382.40" stroke="#111" stroke-width="1.0"/>
<rect x="456.90" y="429.80" width="19.40" height="28.50" fill="#999999"/>
<line x1="466.60" y1="425.20" x2="466.60" y2="429.80" stroke="#4a4a4a" stroke-width="1.2"/>
<line x1="464.70" y1="425.20" x2="468.50" y2="425.20" stroke="#4a4a4a" stroke-width="1.3"/>
<circle cx="463.80" cy="421.70" r="0.85" fill="#1a1a1a"/>
<circle cx="466.60" cy="421.70" r="0.85" fill="#1a1a1a"/>
<circle cx="469.40" cy="421.70" r="0.85" fill="#1a1a1a"/>
<line x1="393.70" y1="380.60" x2="393.70" y2="459.20" stroke="#141414" stroke-width="1.5"/>
<line x1="392.95" y1="458.30" x2="491.90" y2="458.30" stroke="#141414" stroke-width="1.9"/>
<line x1="442.80" y1="458.30" x2="442.80" y2="460.70" stroke="#141414" stroke-width="1.3"/>
<line x1="491.30" y1="458.30" x2="491.30" y2="460.70" stroke="#141414" stroke-width="1.3"/>
<line x1="391.90" y1="381.90" x2="393.70" y2="381.90" stroke="#141414" stroke-width="1.1"/>
<text x="383.50" y="384.40" font-size="9.3" text-anchor="middle">100</text>
<line x1="391.90" y1="397.18" x2="393.70" y2="397.18" stroke="#141414" stroke-width="1.1"/>
<text x="383.50" y="399.68" font-size="9.3" text-anchor="middle">80</text>
<line x1="391.90" y1="412.46" x2="393.70" y2="412.46" stroke="#141414" stroke-width="1.1"/>
<text x="383.50" y="414.96" font-size="9.3" text-anchor="middle">60</text>
<line x1="391.90" y1="427.74" x2="393.70" y2="427.74" stroke="#141414" stroke-width="1.1"/>
<text x="383.50" y="430.24" font-size="9.3" text-anchor="middle">40</text>
<line x1="391.90" y1="443.02" x2="393.70" y2="443.02" stroke="#141414" stroke-width="1.1"/>
<text x="383.50" y="445.52" font-size="9.3" text-anchor="middle">20</text>
<line x1="391.90" y1="458.30" x2="393.70" y2="458.30" stroke="#141414" stroke-width="1.1"/>
<text x="383.50" y="460.80" font-size="9.3" text-anchor="middle">0</text>
<text x="370.80" y="416.30" font-size="8.8" text-anchor="middle" textLength="74.20" lengthAdjust="spacingAndGlyphs" transform="rotate(-90 370.80 416.30)">% of Colonies/Ctrl</text>
<text x="420.60" y="468.20" font-size="9.6" text-anchor="middle">Ctrl</text>
<text x="467.20" y="468.20" font-size="9.6" text-anchor="middle">Doxy</text>
<polyline points="44.10,496.90 93.90,496.90 93.90,504.60 106.70,504.60 106.70,513.00 118.70,513.00 118.70,521.30 123.50,521.30 123.50,529.60 125.40,529.60 125.40,537.90 128.30,537.90 128.30,546.20 136.00,546.20 136.00,554.60 137.00,554.60 137.00,562.30" fill="none" stroke="#8f8f8f" stroke-width="2.2" stroke-linejoin="miter" stroke-linecap="butt"/>
<polyline points="44.10,496.90 70.20,496.90 73.70,555.30 76.10,555.30 76.10,562.30" fill="none" stroke="#141414" stroke-width="2.5" stroke-linejoin="miter" stroke-linecap="butt"/>
<line x1="44.10" y1="495.70" x2="44.10" y2="563.30" stroke="#141414" stroke-width="2.0"/>
<line x1="43.10" y1="562.30" x2="143.10" y2="562.30" stroke="#141414" stroke-width="2.0"/>
<line x1="41.70" y1="496.90" x2="44.10" y2="496.90" stroke="#141414" stroke-width="1.3"/>
<text x="32.50" y="499.90" font-size="8.6" text-anchor="middle">100</text>
<line x1="41.70" y1="509.98" x2="44.10" y2="509.98" stroke="#141414" stroke-width="1.3"/>
<text x="32.50" y="512.98" font-size="8.6" text-anchor="middle">80</text>
<line x1="41.70" y1="523.06" x2="44.10" y2="523.06" stroke="#141414" stroke-width="1.3"/>
<text x="32.50" y="526.06" font-size="8.6" text-anchor="middle">60</text>
<line x1="41.70" y1="536.14" x2="44.10" y2="536.14" stroke="#141414" stroke-width="1.3"/>
<text x="32.50" y="539.14" font-size="8.6" text-anchor="middle">40</text>
<line x1="41.70" y1="549.22" x2="44.10" y2="549.22" stroke="#141414" stroke-width="1.3"/>
<text x="32.50" y="552.22" font-size="8.6" text-anchor="middle">20</text>
<line x1="41.70" y1="562.30" x2="44.10" y2="562.30" stroke="#141414" stroke-width="1.3"/>
<text x="32.50" y="565.30" font-size="8.6" text-anchor="middle">0</text>
<line x1="44.10" y1="562.30" x2="44.10" y2="564.70" stroke="#141414" stroke-width="1.3"/>
<text x="44.10" y="573.70" font-size="8.6" text-anchor="middle">0</text>
<line x1="69.05" y1="562.30" x2="69.05" y2="564.70" stroke="#141414" stroke-width="1.3"/>
<text x="69.05" y="573.70" font-size="8.6" text-anchor="middle">50</text>
<line x1="94.00" y1="562.30" x2="94.00" y2="564.70" stroke="#141414" stroke-width="1.3"/>
<text x="94.00" y="573.70" font-size="8.6" text-anchor="middle">100</text>
<line x1="118.95" y1="562.30" x2="118.95" y2="564.70" stroke="#141414" stroke-width="1.3"/>
<text x="118.95" y="573.70" font-size="8.6" text-anchor="middle">150</text>
<line x1="143.90" y1="562.30" x2="143.90" y2="564.70" stroke="#141414" stroke-width="1.3"/>
<text x="143.90" y="573.70" font-size="8.6" text-anchor="middle">200</text>
<text x="96.20" y="580.60" font-size="8.9" text-anchor="middle">Days</text>
<line x1="125.90" y1="501.70" x2="134.80" y2="501.70" stroke="#141414" stroke-width="2.5"/>
<line x1="125.90" y1="509.00" x2="134.80" y2="509.00" stroke="#8f8f8f" stroke-width="2.5"/>
<text x="137.80" y="502.60" font-size="8.6">Ctrl (<tspan font-style="italic">n</tspan> = 10)</text>
<text x="137.80" y="510.65" font-size="8.6">Doxy (<tspan font-style="italic">n</tspan> = 8)</text>
<circle cx="131.69" cy="521.50" r="1.0" fill="#1a1a1a"/>
<circle cx="135.14" cy="521.50" r="1.0" fill="#1a1a1a"/>
<circle cx="138.59" cy="521.50" r="1.0" fill="#1a1a1a"/>
<text x="141.30" y="525.90" font-size="8.6"><tspan font-style="italic">P</tspan> &lt; 0.001</text>
<polyline points="216.50,496.90 274.60,496.90 274.60,515.40 282.30,515.40 282.30,525.00 284.60,525.00 284.60,534.60 295.60,534.60 295.60,552.90 302.30,552.90 302.30,562.30" fill="none" stroke="#8f8f8f" stroke-width="2.2" stroke-linejoin="miter" stroke-linecap="butt"/>
<polyline points="216.50,496.90 258.70,496.90 258.70,523.10 262.50,523.10 262.50,536.00 265.40,536.00 265.40,548.50 267.30,548.50 267.30,562.30" fill="none" stroke="#141414" stroke-width="2.5" stroke-linejoin="miter" stroke-linecap="butt"/>
<line x1="216.50" y1="495.70" x2="216.50" y2="563.30" stroke="#141414" stroke-width="2.0"/>
<line x1="215.50" y1="562.30" x2="316.20" y2="562.30" stroke="#141414" stroke-width="2.0"/>
<line x1="214.10" y1="496.90" x2="216.50" y2="496.90" stroke="#141414" stroke-width="1.3"/>
<text x="206.00" y="499.90" font-size="8.6" text-anchor="middle">100</text>
<line x1="214.10" y1="509.98" x2="216.50" y2="509.98" stroke="#141414" stroke-width="1.3"/>
<text x="206.00" y="512.98" font-size="8.6" text-anchor="middle">80</text>
<line x1="214.10" y1="523.06" x2="216.50" y2="523.06" stroke="#141414" stroke-width="1.3"/>
<text x="206.00" y="526.06" font-size="8.6" text-anchor="middle">60</text>
<line x1="214.10" y1="536.14" x2="216.50" y2="536.14" stroke="#141414" stroke-width="1.3"/>
<text x="206.00" y="539.14" font-size="8.6" text-anchor="middle">40</text>
<line x1="214.10" y1="549.22" x2="216.50" y2="549.22" stroke="#141414" stroke-width="1.3"/>
<text x="206.00" y="552.22" font-size="8.6" text-anchor="middle">20</text>
<line x1="214.10" y1="562.30" x2="216.50" y2="562.30" stroke="#141414" stroke-width="1.3"/>
<text x="206.00" y="565.30" font-size="8.6" text-anchor="middle">0</text>
<line x1="216.50" y1="562.30" x2="216.50" y2="564.70" stroke="#141414" stroke-width="1.3"/>
<text x="216.50" y="573.70" font-size="8.6" text-anchor="middle">0</text>
<line x1="241.68" y1="562.30" x2="241.68" y2="564.70" stroke="#141414" stroke-width="1.3"/>
<text x="241.68" y="573.70" font-size="8.6" text-anchor="middle">30</text>
<line x1="266.85" y1="562.30" x2="266.85" y2="564.70" stroke="#141414" stroke-width="1.3"/>
<text x="266.85" y="573.70" font-size="8.6" text-anchor="middle">60</text>
<line x1="292.02" y1="562.30" x2="292.02" y2="564.70" stroke="#141414" stroke-width="1.3"/>
<text x="292.02" y="573.70" font-size="8.6" text-anchor="middle">90</text>
<line x1="317.20" y1="562.30" x2="317.20" y2="564.70" stroke="#141414" stroke-width="1.3"/>
<text x="317.20" y="573.70" font-size="8.6" text-anchor="middle">120</text>
<text x="269.20" y="580.60" font-size="8.9" text-anchor="middle">Days</text>
<line x1="299.10" y1="501.70" x2="307.90" y2="501.70" stroke="#141414" stroke-width="2.5"/>
<line x1="299.10" y1="509.00" x2="307.90" y2="509.00" stroke="#8f8f8f" stroke-width="2.5"/>
<text x="310.20" y="502.60" font-size="8.6">Ctrl (<tspan font-style="italic">n</tspan> = 5)</text>
<text x="310.20" y="510.65" font-size="8.6">Doxy (<tspan font-style="italic">n</tspan> = 7)</text>
<circle cx="301.39" cy="521.50" r="1.0" fill="#1a1a1a"/>
<circle cx="304.84" cy="521.50" r="1.0" fill="#1a1a1a"/>
<circle cx="308.29" cy="521.50" r="1.0" fill="#1a1a1a"/>
<text x="311.00" y="525.90" font-size="8.6"><tspan font-style="italic">P</tspan> &lt; 0.001</text>
<polyline points="394.00,496.90 468.90,496.90 468.90,514.80 496.10,514.80" fill="none" stroke="#8f8f8f" stroke-width="2.2" stroke-linejoin="miter" stroke-linecap="butt"/>
<polyline points="394.00,496.90 443.50,496.90 443.50,518.70 445.00,518.70 445.00,540.80 446.00,540.80 446.00,562.30" fill="none" stroke="#141414" stroke-width="2.5" stroke-linejoin="miter" stroke-linecap="butt"/>
<line x1="394.00" y1="495.70" x2="394.00" y2="563.30" stroke="#141414" stroke-width="2.0"/>
<line x1="393.00" y1="562.30" x2="494.00" y2="562.30" stroke="#141414" stroke-width="2.0"/>
<line x1="391.60" y1="496.90" x2="394.00" y2="496.90" stroke="#141414" stroke-width="1.3"/>
<text x="383.00" y="499.90" font-size="8.6" text-anchor="middle">100</text>
<line x1="391.60" y1="509.98" x2="394.00" y2="509.98" stroke="#141414" stroke-width="1.3"/>
<text x="383.00" y="512.98" font-size="8.6" text-anchor="middle">80</text>
<line x1="391.60" y1="523.06" x2="394.00" y2="523.06" stroke="#141414" stroke-width="1.3"/>
<text x="383.00" y="526.06" font-size="8.6" text-anchor="middle">60</text>
<line x1="391.60" y1="536.14" x2="394.00" y2="536.14" stroke="#141414" stroke-width="1.3"/>
<text x="383.00" y="539.14" font-size="8.6" text-anchor="middle">40</text>
<line x1="391.60" y1="549.22" x2="394.00" y2="549.22" stroke="#141414" stroke-width="1.3"/>
<text x="383.00" y="552.22" font-size="8.6" text-anchor="middle">20</text>
<line x1="391.60" y1="562.30" x2="394.00" y2="562.30" stroke="#141414" stroke-width="1.3"/>
<text x="383.00" y="565.30" font-size="8.6" text-anchor="middle">0</text>
<line x1="394.00" y1="562.30" x2="394.00" y2="564.70" stroke="#141414" stroke-width="1.3"/>
<text x="394.00" y="573.70" font-size="8.6" text-anchor="middle">0</text>
<line x1="419.10" y1="562.30" x2="419.10" y2="564.70" stroke="#141414" stroke-width="1.3"/>
<text x="419.10" y="573.70" font-size="8.6" text-anchor="middle">50</text>
<line x1="444.20" y1="562.30" x2="444.20" y2="564.70" stroke="#141414" stroke-width="1.3"/>
<text x="444.20" y="573.70" font-size="8.6" text-anchor="middle">100</text>
<line x1="469.30" y1="562.30" x2="469.30" y2="564.70" stroke="#141414" stroke-width="1.3"/>
<text x="469.30" y="573.70" font-size="8.6" text-anchor="middle">150</text>
<line x1="494.40" y1="562.30" x2="494.40" y2="564.70" stroke="#141414" stroke-width="1.3"/>
<text x="494.40" y="573.70" font-size="8.6" text-anchor="middle">200</text>
<text x="447.30" y="580.60" font-size="8.9" text-anchor="middle">Days</text>
<line x1="461.10" y1="528.10" x2="469.90" y2="528.10" stroke="#141414" stroke-width="2.5"/>
<line x1="461.10" y1="535.40" x2="469.90" y2="535.40" stroke="#8f8f8f" stroke-width="2.5"/>
<text x="473.00" y="530.60" font-size="8.6">Ctrl (<tspan font-style="italic">n</tspan> = 3)</text>
<text x="473.00" y="537.85" font-size="8.6">Doxy (<tspan font-style="italic">n</tspan> = 4)</text>
<circle cx="464.90" cy="545.00" r="1.0" fill="#1a1a1a"/>
<text x="467.60" y="549.60" font-size="8.6"><tspan font-style="italic">P</tspan> &lt; 0.05</text>
</svg>
</body></html>
